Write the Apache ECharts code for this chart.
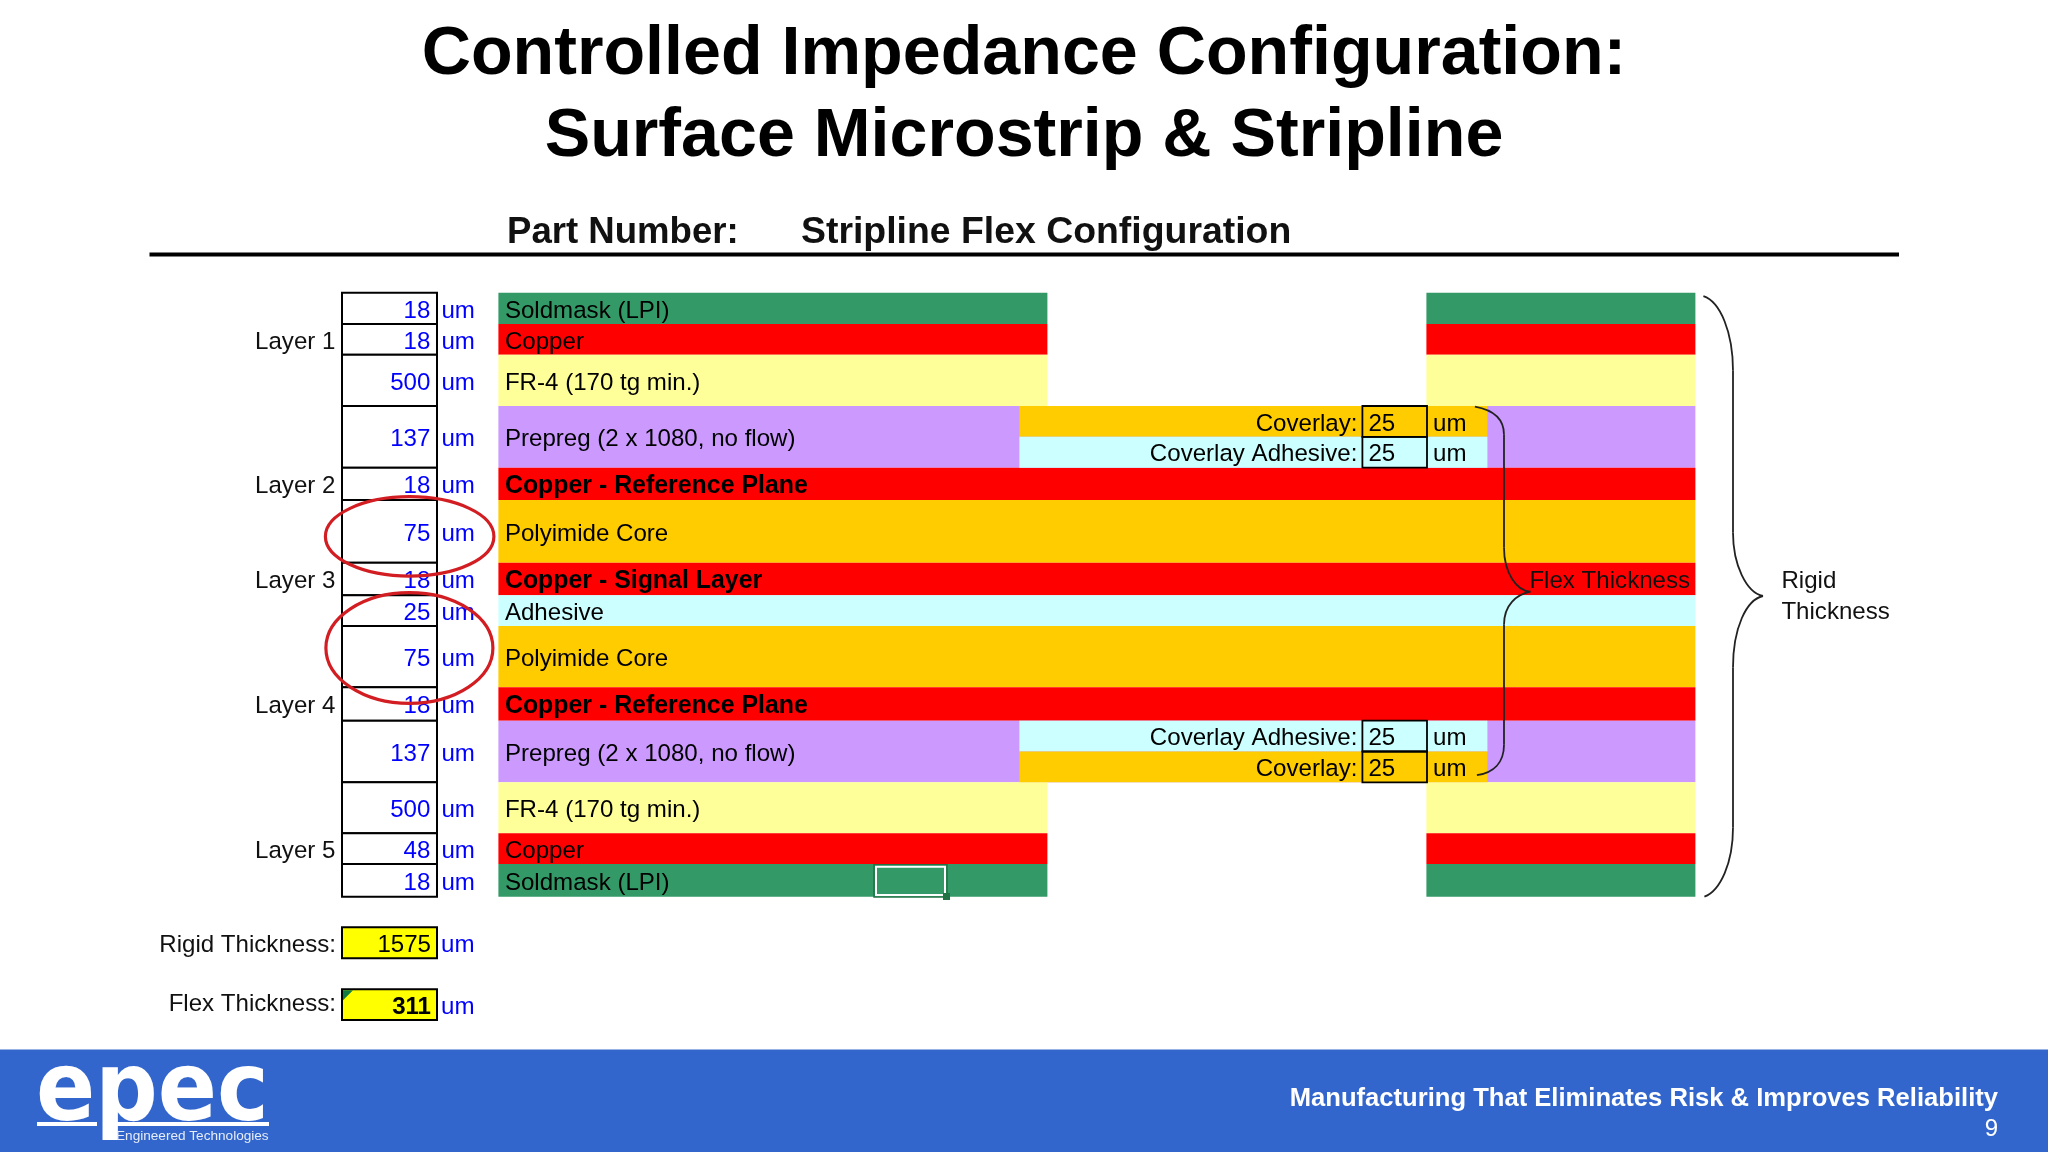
<!DOCTYPE html>
<html><head><meta charset="utf-8">
<style>html,body{margin:0;padding:0;background:#fff}#c{width:2048px;height:1152px}</style>
<script src="https://cdn.jsdelivr.net/npm/echarts@6/dist/echarts.min.js"></script>
</head><body><div id="c"></div>
<script>
const layerLabels = ['', 'Layer 1', '', '', 'Layer 2', '', 'Layer 3', '', '', 'Layer 4', '', '', 'Layer 5', ''];
const thicknessUm = [18, 18, 500, 137, 18, 75, 18, 25, 75, 18, 137, 500, 48, 18];
const materials = ['Soldmask (LPI)', 'Copper', 'FR-4 (170 tg min.)', 'Prepreg (2 x 1080, no flow)', 'Copper - Reference Plane', 'Polyimide Core', 'Copper - Signal Layer', 'Adhesive', 'Polyimide Core', 'Copper - Reference Plane', 'Prepreg (2 x 1080, no flow)', 'FR-4 (170 tg min.)', 'Copper', 'Soldmask (LPI)'];
const sheetRowHeights = [31.3, 30.7, 51.3, 61.7, 32.3, 62.7, 32.6, 30.7, 61.3, 33.4, 61.6, 51, 30.7, 32.7];
const flexRows = [3, 4, 5, 6, 7, 8, 9, 10];
const coverlayLabels = ['Coverlay:', 'Coverlay Adhesive:', 'Coverlay Adhesive:', 'Coverlay:'];
const coverlayValues = [25, 25, 25, 25];
const coverlayParentRows = [3, 3, 10, 10];
const totalsLabels = ['Rigid Thickness:', 'Flex Thickness:'];
const totalsValues = [1575, 311];
const titleLines = ['Controlled Impedance Configuration:', 'Surface Microstrip & Stripline'];
const footerSlogan = 'Manufacturing That Eliminates Risk & Improves Reliability';

const COL = {green:'#339966', red:'#FF0000', yellow:'#FFFF99', purple:'#CC99FF', orange:'#FFCC00', cyan:'#CCFFFF'};
const colorOf = m => m.startsWith('Soldmask') ? COL.green : m.startsWith('Copper') ? COL.red : m.startsWith('FR-4') ? COL.yellow :
  m.startsWith('Prepreg') ? COL.purple : m.startsWith('Polyimide') ? COL.orange : COL.cyan;
const rowEdges = sheetRowHeights.reduce((a, h) => (a.push(a[a.length - 1] + h), a), [0]);
const W = 1197, H = rowEdges[rowEdges.length - 1];
const F = "'Liberation Sans', Arial, sans-serif";
const TXT = 24.1;

// sheet columns, in axis units
const X = {leftEnd:549, rightStart:928, covL:521, covR:989, cellL:864, cellR:928.6, boxL:-156.4, boxR:-61.4};

const rowSeries = {
  type:'custom', coordinateSystem:'cartesian2d', silent:true, z:2,
  data: materials.map((m, i) => [i]),
  renderItem(p, api){
    const i = p.dataIndex, y0 = rowEdges[i], y1 = rowEdges[i + 1], c = colorOf(materials[i]);
    const flex = flexRows.includes(i);
    const band = (a, b, col, t0 = y0, t1 = y1) => {
      const p0 = api.coord([a, t0]), p1 = api.coord([b, t1]);
      return {type:'rect', shape:{x:p0[0], y:p0[1], width:p1[0] - p0[0], height:p1[1] - p0[1]}, style:{fill:col}};
    };
    const kids = flex ? [band(0, W, c)] : [band(0, X.leftEnd, c), band(X.rightStart, W, c)];
    const tx = (s, x, y, o = {}) => {
      const q = api.coord([x, y]);
      return {type:'text', z2:5, style:Object.assign({text:s, x:q[0], y:q[1], verticalAlign:'middle', align:'left', fill:'#000', font:`${TXT}px ${F}`}, o)};
    };
    const mid = (y0 + y1) / 2 + 2.5;
    const bold = materials[i].includes(' - ');
    kids.push(tx(materials[i], 6.5, mid, {font:`${bold ? 'bold 24.9px' : TXT + 'px'} ${F}`, fill: '#000'}));
    // thickness column
    const b0 = api.coord([X.boxL, y0]), b1 = api.coord([X.boxR, y1]);
    kids.push({type:'rect', shape:{x:b0[0], y:b0[1], width:b1[0] - b0[0], height:b1[1] - b0[1]}, style:{fill:'#fff', stroke:'#000', lineWidth:2}});
    kids.push(tx(String(thicknessUm[i]), -68, mid, {align:'right', fill:'#0000FF'}));
    kids.push(tx('um', -57, mid, {fill:'#0000FF'}));
    if (layerLabels[i]) kids.push(tx(layerLabels[i], -163, mid, {align:'right', fill:'#111'}));
    return {type:'group', children:kids};
  }
};

const coverlaySeries = {
  type:'custom', coordinateSystem:'cartesian2d', silent:true, z:3,
  data: coverlayLabels.map((l, i) => [i]),
  renderItem(p, api){
    const i = p.dataIndex, r = coverlayParentRows[i], half = i % 2;
    const m = (rowEdges[r] + rowEdges[r + 1]) / 2;
    const y0 = half ? m : rowEdges[r], y1 = half ? rowEdges[r + 1] : m;
    const col = coverlayLabels[i].includes('Adhesive') ? COL.cyan : COL.orange;
    const a = api.coord([X.covL, y0]), b = api.coord([X.covR, y1]);
    const c0 = api.coord([X.cellL, y0]), c1 = api.coord([X.cellR, y1]);
    const cy = (a[1] + b[1]) / 2 + 2.5;
    const T = (s, x, o) => ({type:'text', z2:5, style:Object.assign({text:s, x, y:cy, verticalAlign:'middle', align:'left', fill:'#000', font:`${TXT}px ${F}`}, o || {})});
    return {type:'group', children:[
      {type:'rect', shape:{x:a[0], y:a[1], width:b[0] - a[0], height:b[1] - a[1]}, style:{fill:col}},
      {type:'rect', z2:3, shape:{x:c0[0], y:c0[1], width:c1[0] - c0[0], height:c1[1] - c0[1]}, style:{fill:'transparent', stroke:'#000', lineWidth:1.8}},
      T(coverlayLabels[i], c0[0] - 5, {align:'right'}),
      T(String(coverlayValues[i]), c0[0] + 6),
      T('um', c1[0] + 6)
    ]};
  }
};

const totalsSeries = {
  type:'custom', coordinateSystem:'cartesian2d', silent:true, z:3,
  data: totalsLabels.map((l, i) => [i]),
  renderItem(p, api){
    const i = p.dataIndex;
    const y0 = [634.6, 696.6][i], y1 = [665.6, 727.3][i];
    const a = api.coord([X.boxL, y0]), b = api.coord([X.boxR, y1]);
    const cy = (a[1] + b[1]) / 2 + 2.5;
    const T = (s, x, o) => ({type:'text', z2:5, style:Object.assign({text:s, x, y:cy, verticalAlign:'middle', align:'left', fill:'#000', font:`${TXT}px ${F}`}, o || {})});
    const kids = [
      {type:'rect', shape:{x:a[0], y:a[1], width:b[0] - a[0], height:b[1] - a[1]}, style:{fill:'#FFFF00', stroke:'#000', lineWidth:2}},
      {type:'text', z2:5, style:{text:totalsLabels[i], x:a[0] - 6, y:cy - (i ? 2.5 : 0), verticalAlign:'middle', align:'right', fill:'#111', font:`${TXT}px ${F}`}},
      T(String(totalsValues[i]), b[0] - 6, {align:'right', font:`${i ? 'bold ' : ''}${TXT}px ${F}`}),
      T('um', b[0] + 4, {fill:'#0000FF'})
    ];
    if (i) kids.push({type:'polygon', shape:{points:[[a[0] + 1, a[1] + 1], [a[0] + 11, a[1] + 1], [a[0] + 1, a[1] + 11]]}, style:{fill:'#107C41'}});
    return {type:'group', children:kids};
  }
};

const annotationSeries = {
  type:'custom', coordinateSystem:'cartesian2d', silent:true, z:6,
  data:[[0]],
  renderItem(p, api){
    const P = (x, y) => api.coord([x, y]);
    const bez = (a, c1, c2, b) => {
      const A = P(...a), B = P(...b), C1 = P(...c1), C2 = P(...c2);
      return {type:'bezierCurve', shape:{x1:A[0], y1:A[1], x2:B[0], y2:B[1], cpx1:C1[0], cpy1:C1[1], cpx2:C2[0], cpy2:C2[1]}, style:{fill:'none', stroke:'#222', lineWidth:1.8}};
    };
    const line = (a, b) => {
      const A = P(...a), B = P(...b);
      return {type:'line', shape:{x1:A[0], y1:A[1], x2:B[0], y2:B[1]}, style:{stroke:'#222', lineWidth:1.8}};
    };
    const ell = (xa, xb, ya, yb) => {
      const A = P(xa, ya), B = P(xb, yb);
      return {type:'ellipse', shape:{cx:(A[0] + B[0]) / 2, cy:(A[1] + B[1]) / 2, rx:(B[0] - A[0]) / 2, ry:(B[1] - A[1]) / 2}, style:{fill:'none', stroke:'#D21E22', lineWidth:3.2}};
    };
    const text = (s, x, y) => {
      const q = P(x, y);
      return {type:'text', style:{text:s, x:q[0], y:q[1], verticalAlign:'middle', align:'left', fill:'#111', font:`${TXT}px ${F}`}};
    };
    const s0 = P(377.6, 574), s1 = P(446.6, 602.3);
    return {type:'group', children:[
      // rigid brace
      bez([1205, 3.5], [1222, 9], [1234.6, 40], [1234.6, 78]), line([1234.6, 78], [1234.6, 240]),
      bez([1234.6, 240], [1234.6, 272], [1248, 300], [1264.6, 303.3]),
      bez([1264.6, 303.3], [1248, 307], [1234.6, 335], [1234.6, 375]), line([1234.6, 375], [1234.6, 535]),
      bez([1234.6, 535], [1234.6, 570], [1222, 598], [1206, 604]),
      // flex brace
      bez([976.5, 114], [993, 117], [1005.6, 125], [1005.6, 142]), line([1005.6, 142], [1005.6, 255]),
      bez([1005.6, 255], [1005.6, 280], [1018, 298], [1032, 299]),
      bez([1032, 299], [1018, 302], [1005.6, 312], [1005.6, 332]), line([1005.6, 332], [1005.6, 452]),
      bez([1005.6, 452], [1005.6, 470], [995, 480], [978.5, 482.5]),
      text('Flex Thickness', 1031, 288.5),
      text('Rigid', 1283, 288.5), text('Thickness', 1283, 320),
      // red circles
      ell(-173, -4.5, 204, 283.4), ell(-172.5, -5.5, 300, 410.6),
      // spreadsheet cell cursor
      {type:'rect', shape:{x:s0[0] - 2, y:s0[1] - 2, width:s1[0] - s0[0] + 4, height:s1[1] - s0[1] + 4}, style:{fill:'none', stroke:'#217346', lineWidth:1.5}},
      {type:'rect', shape:{x:s0[0], y:s0[1], width:s1[0] - s0[0], height:s1[1] - s0[1]}, style:{fill:'none', stroke:'#fff', lineWidth:2}},
      {type:'rect', shape:{x:s1[0] - 2, y:s1[1] - 2, width:7, height:7}, style:{fill:'#217346'}}
    ]};
  }
};

const chart = echarts.init(document.getElementById('c'), null, {renderer:'canvas', width:2048, height:1152});
chart.setOption({
  backgroundColor:'#fff', animation:false,
  title:{text:titleLines.join('\n'), left:1019, top:9, textAlign:'center',
    textStyle:{fontFamily:F, fontWeight:'bold', fontSize:68.2, lineHeight:82, color:'#000'}},
  grid:{left:498.4, top:292.7, width:W, height:H, containLabel:false},
  xAxis:{type:'value', min:0, max:W, show:false},
  yAxis:{type:'value', min:0, max:H, inverse:true, show:false},
  series:[rowSeries, coverlaySeries, totalsSeries, annotationSeries],
  graphic:{elements:[
    {type:'text', left:507, top:214, style:{text:'Part Number:', font:`bold 36.6px ${F}`, fill:'#111'}},
    {type:'text', left:801, top:214, style:{text:'Stripline Flex Configuration', font:`bold 37.4px ${F}`, fill:'#111'}},
    {type:'rect', shape:{x:149.5, y:252.5, width:1749.5, height:4}, style:{fill:'#000'}},
    {type:'rect', shape:{x:0, y:1049.5, width:2048, height:102.5}, style:{fill:'#3366CC'}},
    {type:'text', x:36, y:1046, scaleX:0.9, style:{text:'epec', font:`bold 97px 'DejaVu Sans'`, fill:'#fff'}},
    {type:'rect', shape:{x:37, y:1122, width:60, height:4}, style:{fill:'#fff'}},
    {type:'rect', shape:{x:114, y:1122, width:155, height:4}, style:{fill:'#fff'}},
    {type:'text', x:116, y:1129, style:{text:'Engineered Technologies', font:`13.6px ${F}`, fill:'#E6ECF8'}},
    {type:'text', x:1998, y:1099, style:{text:footerSlogan, align:'right', verticalAlign:'middle', font:`bold 25.6px ${F}`, fill:'#fff'}},
    {type:'text', x:1998, y:1129, style:{text:'9', align:'right', verticalAlign:'middle', font:`24px ${F}`, fill:'#fff'}}
  ]}
});
</script></body></html>
